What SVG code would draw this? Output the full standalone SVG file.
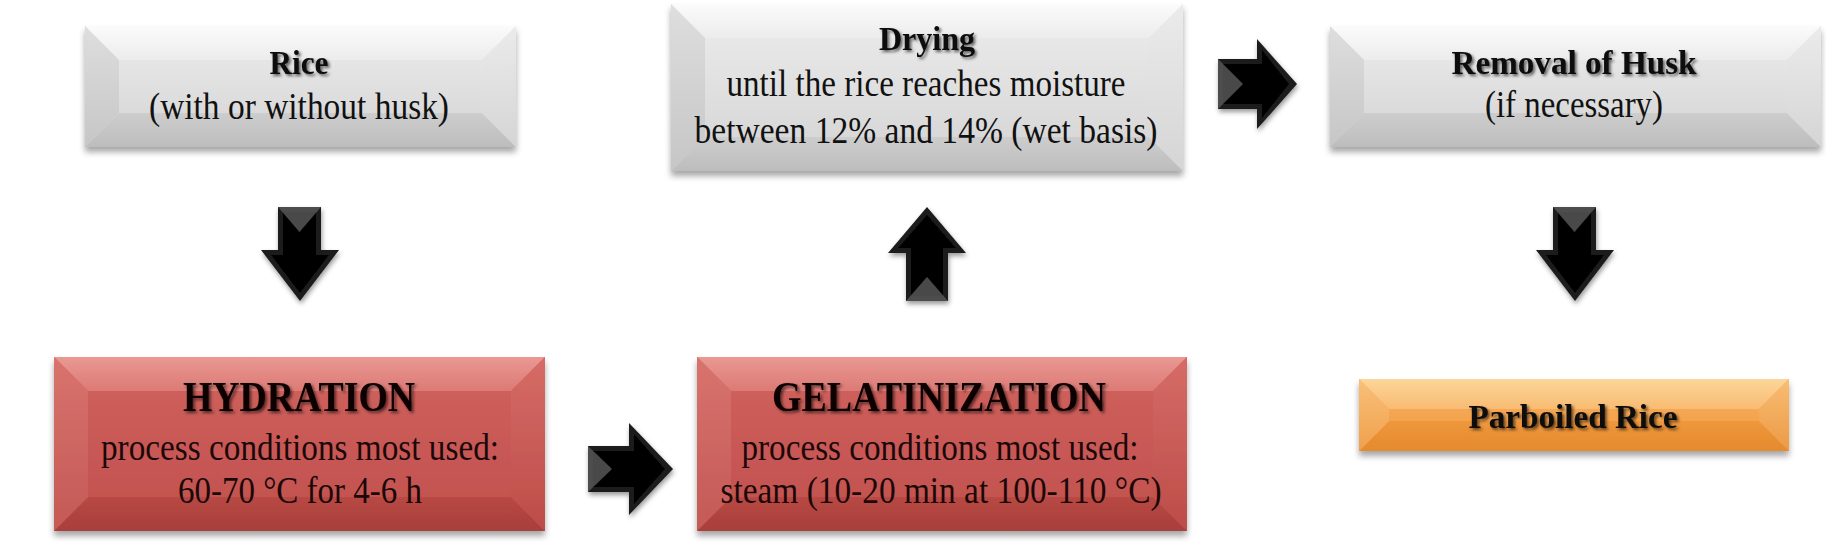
<svg xmlns="http://www.w3.org/2000/svg" width="1826" height="555" viewBox="0 0 1826 555">
<defs>
  <linearGradient id="gFace" x1="0" y1="0" x2="0" y2="1"><stop offset="0" stop-color="#ededed"/><stop offset="1" stop-color="#d3d3d3"/></linearGradient>
  <linearGradient id="gTop" x1="0" y1="0" x2="0" y2="1"><stop offset="0" stop-color="#fbfbfb"/><stop offset="1" stop-color="#ececec"/></linearGradient>
  <linearGradient id="gSide" x1="0" y1="0" x2="0" y2="1"><stop offset="0" stop-color="#dedede"/><stop offset="1" stop-color="#c6c6c6"/></linearGradient>
  <linearGradient id="gSideR" x1="0" y1="0" x2="0" y2="1"><stop offset="0" stop-color="#ebebeb"/><stop offset="1" stop-color="#d5d5d5"/></linearGradient>
  <linearGradient id="gBot" x1="0" y1="0" x2="0" y2="1"><stop offset="0" stop-color="#cdcdcd"/><stop offset="1" stop-color="#bdbdbd"/></linearGradient>

  <linearGradient id="rFace" x1="0" y1="0" x2="0" y2="1"><stop offset="0" stop-color="#d0625e"/><stop offset="1" stop-color="#c0504d"/></linearGradient>
  <linearGradient id="rTop" x1="0" y1="0" x2="0" y2="1"><stop offset="0" stop-color="#ea9893"/><stop offset="1" stop-color="#dc7a75"/></linearGradient>
  <linearGradient id="rSide" x1="0" y1="0" x2="0" y2="1"><stop offset="0" stop-color="#d8736e"/><stop offset="1" stop-color="#c45955"/></linearGradient>
  <linearGradient id="rSideR" x1="0" y1="0" x2="0" y2="1"><stop offset="0" stop-color="#d66c67"/><stop offset="1" stop-color="#bc4c48"/></linearGradient>
  <linearGradient id="rBot" x1="0" y1="0" x2="0" y2="1"><stop offset="0" stop-color="#b84844"/><stop offset="1" stop-color="#a83f3b"/></linearGradient>

  <linearGradient id="oFace" x1="0" y1="0" x2="0" y2="1"><stop offset="0" stop-color="#f7b062"/><stop offset="1" stop-color="#f29a3e"/></linearGradient>
  <linearGradient id="oTop" x1="0" y1="0" x2="0" y2="1"><stop offset="0" stop-color="#fcd69a"/><stop offset="1" stop-color="#f8bb72"/></linearGradient>
  <linearGradient id="oSide" x1="0" y1="0" x2="0" y2="1"><stop offset="0" stop-color="#f9c07a"/><stop offset="1" stop-color="#f0a04c"/></linearGradient>
  <linearGradient id="oSideR" x1="0" y1="0" x2="0" y2="1"><stop offset="0" stop-color="#f8bd74"/><stop offset="1" stop-color="#ec9a44"/></linearGradient>
  <linearGradient id="oBot" x1="0" y1="0" x2="0" y2="1"><stop offset="0" stop-color="#ee973c"/><stop offset="1" stop-color="#e58a2e"/></linearGradient>

  <filter id="boxShadow" x="-5%" y="-10%" width="110%" height="130%">
    <feDropShadow dx="0" dy="5" stdDeviation="3" flood-color="#000" flood-opacity="0.35"/>
  </filter>
  <filter id="arrowShadow" x="-20%" y="-20%" width="140%" height="140%">
    <feDropShadow dx="1" dy="3" stdDeviation="2.5" flood-color="#000" flood-opacity="0.4"/>
  </filter>
  <filter id="txtShadow" x="-5%" y="-20%" width="110%" height="150%">
    <feDropShadow dx="2" dy="2" stdDeviation="1.4" flood-color="#000" flood-opacity="0.6"/>
  </filter>
  <style>
    .grey .face{fill:url(#gFace)} .grey .top{fill:url(#gTop)} .grey .left{fill:url(#gSide)} .grey .right{fill:url(#gSideR)} .grey .bot{fill:url(#gBot)}
    .red .face{fill:url(#rFace)} .red .top{fill:url(#rTop)} .red .left{fill:url(#rSide)} .red .right{fill:url(#rSideR)} .red .bot{fill:url(#rBot)}
    .orange .face{fill:url(#oFace)} .orange .top{fill:url(#oTop)} .orange .left{fill:url(#oSide)} .orange .right{fill:url(#oSideR)} .orange .bot{fill:url(#oBot)}
    .shape{filter:url(#boxShadow)}
    text{font-family:"Liberation Serif","Times New Roman",serif;text-anchor:middle;fill:#111}
    .title{font-weight:bold;fill:#0a0a0a;filter:url(#txtShadow)}
    .red text{fill:#1c0808}
    .red .title{fill:#0a0202}
    .arrow .outer{fill:#1c1c1c}
    .arrow .inner{fill:#040404}
    .arrow .facet{fill:#5a5a5a;opacity:0.8}
    .arrow{filter:url(#arrowShadow)}
  </style>
</defs>
<rect x="0" y="0" width="1826" height="555" fill="#ffffff"/>

<g id="connectors">
  <g class="arrow" id="arrow-rice-hydration">
    <polygon class="outer" points="278,207 321,207 321,250 339,250 300,301 261,250 278,250"/>
    <polygon class="inner" points="283,212 316,212 316,255 329,255 300,293 271,255 283,255"/>
    <polygon class="facet" points="278,207 321,207 299.5,232"/>
  </g>
  <g class="arrow" id="arrow-hydration-gelatinization">
    <polygon class="outer" points="588,446 629,446 629,423 673,469 629,515 629,492 588,492"/>
    <polygon class="inner" points="593,451 634,451 634,434 665,469 634,504 634,487 593,487"/>
    <polygon class="facet" points="588,446 588,492 612,469"/>
  </g>
  <g class="arrow" id="arrow-gelatinization-drying">
    <polygon class="outer" points="927,207 966,253 948,253 948,301 906,301 906,253 888,253"/>
    <polygon class="inner" points="927,215 956,248 943,248 943,296 911,296 911,248 898,248"/>
    <polygon class="facet" points="906,301 948,301 927,277"/>
  </g>
  <g class="arrow" id="arrow-drying-removal">
    <polygon class="outer" points="1218,59 1257,59 1257,39 1297,84 1257,129 1257,109 1218,109"/>
    <polygon class="inner" points="1223,64 1262,64 1262,50 1289,84 1262,118 1262,104 1223,104"/>
    <polygon class="facet" points="1218,59 1218,109 1243,84"/>
  </g>
  <g class="arrow" id="arrow-removal-parboiled">
    <polygon class="outer" points="1553,207 1596,207 1596,250 1614,250 1575,301 1536,250 1553,250"/>
    <polygon class="inner" points="1558,212 1591,212 1591,255 1604,255 1575,293 1546,255 1558,255"/>
    <polygon class="facet" points="1553,207 1596,207 1574.5,232"/>
  </g>
</g>

<g id="node-rice" class="grey">
  <g class="shape">
    <rect class="face" x="85" y="26" width="431" height="121"/>
    <polygon class="top" points="85,26 516,26 482,60 119,60"/>
    <polygon class="bot" points="85,147 516,147 482,113 119,113"/>
    <polygon class="left" points="85,26 119,60 119,113 85,147"/>
    <polygon class="right" points="516,26 482,60 482,113 516,147"/>
  </g>
  <text class="title" x="299" y="74" font-size="34" textLength="59" lengthAdjust="spacingAndGlyphs">Rice</text>
  <text x="299" y="119" font-size="37" textLength="300" lengthAdjust="spacingAndGlyphs">(with or without husk)</text>
</g>

<g id="node-hydration" class="red">
  <g class="shape">
    <rect class="face" x="54" y="357" width="491" height="174"/>
    <polygon class="top" points="54,357 545,357 511,391 88,391"/>
    <polygon class="bot" points="54,531 545,531 511,497 88,497"/>
    <polygon class="left" points="54,357 88,391 88,497 54,531"/>
    <polygon class="right" points="545,357 511,391 511,497 545,531"/>
  </g>
  <text class="title" x="299" y="411" font-size="43" textLength="232" lengthAdjust="spacingAndGlyphs">HYDRATION</text>
  <text x="300" y="460" font-size="38" textLength="398" lengthAdjust="spacingAndGlyphs">process conditions most used:</text>
  <text x="300" y="503" font-size="38" textLength="244" lengthAdjust="spacingAndGlyphs">60-70 °C for 4-6 h</text>
</g>

<g id="node-gelatinization" class="red">
  <g class="shape">
    <rect class="face" x="697" y="357" width="490" height="174"/>
    <polygon class="top" points="697,357 1187,357 1153,391 731,391"/>
    <polygon class="bot" points="697,531 1187,531 1153,497 731,497"/>
    <polygon class="left" points="697,357 731,391 731,497 697,531"/>
    <polygon class="right" points="1187,357 1153,391 1153,497 1187,531"/>
  </g>
  <text class="title" x="939" y="411" font-size="43" textLength="334" lengthAdjust="spacingAndGlyphs">GELATINIZATION</text>
  <text x="940" y="460" font-size="38" textLength="397" lengthAdjust="spacingAndGlyphs">process conditions most used:</text>
  <text x="941" y="503" font-size="38" textLength="441" lengthAdjust="spacingAndGlyphs">steam (10-20 min at 100-110 °C)</text>
</g>

<g id="node-drying" class="grey">
  <g class="shape">
    <rect class="face" x="671" y="4" width="512" height="167"/>
    <polygon class="top" points="671,4 1183,4 1149,38 705,38"/>
    <polygon class="bot" points="671,171 1183,171 1149,137 705,137"/>
    <polygon class="left" points="671,4 705,38 705,137 671,171"/>
    <polygon class="right" points="1183,4 1149,38 1149,137 1183,171"/>
  </g>
  <text class="title" x="927" y="50" font-size="34" textLength="96" lengthAdjust="spacingAndGlyphs">Drying</text>
  <text x="926" y="96" font-size="38" textLength="399" lengthAdjust="spacingAndGlyphs">until the rice reaches moisture</text>
  <text x="926" y="143" font-size="38" textLength="463" lengthAdjust="spacingAndGlyphs">between 12% and 14% (wet basis)</text>
</g>

<g id="node-removal" class="grey">
  <g class="shape">
    <rect class="face" x="1330" y="26" width="491" height="121"/>
    <polygon class="top" points="1330,26 1821,26 1787,60 1364,60"/>
    <polygon class="bot" points="1330,147 1821,147 1787,113 1364,113"/>
    <polygon class="left" points="1330,26 1364,60 1364,113 1330,147"/>
    <polygon class="right" points="1821,26 1787,60 1787,113 1821,147"/>
  </g>
  <text class="title" x="1574" y="74" font-size="34" textLength="245" lengthAdjust="spacingAndGlyphs">Removal of Husk</text>
  <text x="1574" y="117" font-size="37" textLength="178" lengthAdjust="spacingAndGlyphs">(if necessary)</text>
</g>

<g id="node-parboiled" class="orange">
  <g class="shape">
    <rect class="face" x="1359" y="379" width="430" height="72"/>
    <polygon class="top" points="1359,379 1789,379 1759,409 1389,409"/>
    <polygon class="bot" points="1359,451 1789,451 1759,421 1389,421"/>
    <polygon class="left" points="1359,379 1389,409 1389,421 1359,451"/>
    <polygon class="right" points="1789,379 1759,409 1759,421 1789,451"/>
  </g>
  <text class="title" x="1573" y="428" font-size="33" textLength="209" lengthAdjust="spacingAndGlyphs">Parboiled Rice</text>
</g>
</svg>
